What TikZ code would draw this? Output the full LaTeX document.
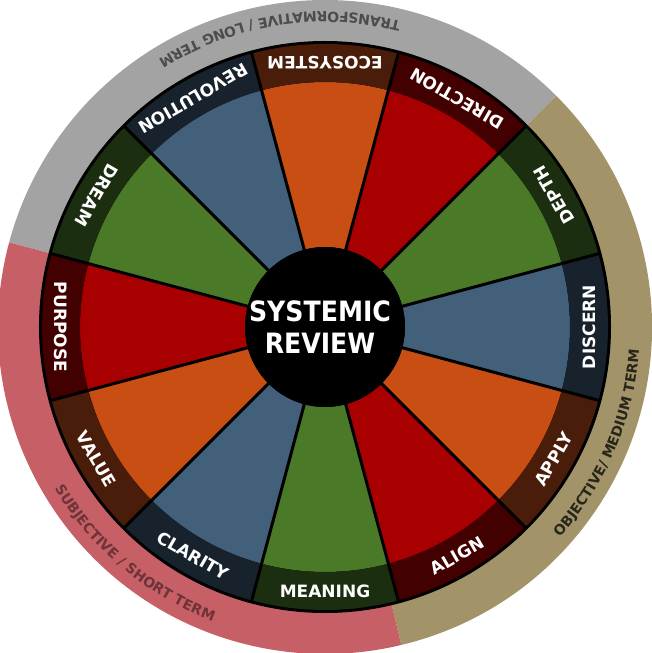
\documentclass[tikz,border=0pt]{standalone}
\usepackage{fontspec}
\setmainfont{DejaVu Sans}
\newfontfamily\condfont{DejaVu Sans Condensed}
\usetikzlibrary{decorations.text}

\definecolor{segorange}{HTML}{C84E14}
\definecolor{segred}{HTML}{A80000}
\definecolor{seggreen}{HTML}{4A7A28}
\definecolor{segblue}{HTML}{42607A}
\definecolor{bandorange}{HTML}{4A1C0A}
\definecolor{bandred}{HTML}{420000}
\definecolor{bandgreen}{HTML}{1C2E10}
\definecolor{bandblue}{HTML}{18222C}
\definecolor{ringgray}{HTML}{A3A3A3}
\definecolor{ringtan}{HTML}{A29468}
\definecolor{ringred}{HTML}{C65F66}

\tikzset{
  bandtext/.style={text=white, font=\bfseries\fontsize{17}{17}\selectfont, inner sep=0pt},
  arctext/.style={decorate, decoration={text along path, text align=center, text color=#1}}
}

\begin{document}
\begin{tikzpicture}[x=1pt,y=1pt]
    \useasboundingbox (-325,-326) rectangle (327,327);

    % Outer rings
    \fill[ringgray] (45:327) arc (45:165:327) -- (165:285) arc (165:45:285) -- cycle;
    \fill[ringtan] (-76.5:327) arc (-76.5:45:327) -- (45:285) arc (45:-76.5:285) -- cycle;
    \fill[ringred] (165:327) arc (165:283.5:327) -- (283.5:285) arc (283.5:165:285) -- cycle;

    % Ring texts
    \begingroup
    \fontsize{14}{14}\selectfont\bfseries
    \path[arctext=black!70, decoration={text={TRANSFORMATIVE / LONG TERM}}]
        (30:315) arc (30:168:315);
    \path[arctext=black!75!ringtan, decoration={text={OBJECTIVE/ MEDIUM TERM}}]
        (-62:315) arc (-62:16:315);
    \path[arctext=black!45!ringred, decoration={text={SUBJECTIVE / SHORT TERM}}]
        (190:315) arc (190:270:315);
    \endgroup

    % Wheel
    \fill[black] (0,0) circle (286);
    \foreach \a/\lbl/\col in {90/ECOSYSTEM/orange, 60/DIRECTION/red, 30/DEPTH/green,
        0/DISCERN/blue, -30/APPLY/orange, -60/ALIGN/red, -90/MEANING/green,
        -120/CLARITY/blue, -150/VALUE/orange, 180/PURPOSE/red, 150/DREAM/green,
        120/REVOLUTION/blue} {
        \fill[seg\col] (\a-15:80) arc (\a-15:\a+15:80) -- (\a+15:245) arc (\a+15:\a-15:245) -- cycle;
        \fill[band\col] (\a-15:245) arc (\a-15:\a+15:245) -- (\a+15:283) arc (\a+15:\a-15:283) -- cycle;
        \node[bandtext, rotate=\a+90] (l\lbl) at (\a:264) {\lbl};
    }

    % Separators
    \foreach \a in {15,45,...,345} {
        \draw[black, line width=3] (\a:80) -- (\a:285);
    }

    % Center
    \fill[black] (0,0) circle (80);
    \node[text=white, align=center, font=\condfont\bfseries\fontsize{28}{32}\selectfont] (center) at (-5,0) {SYSTEMIC\\REVIEW};

\end{tikzpicture}
\end{document}
